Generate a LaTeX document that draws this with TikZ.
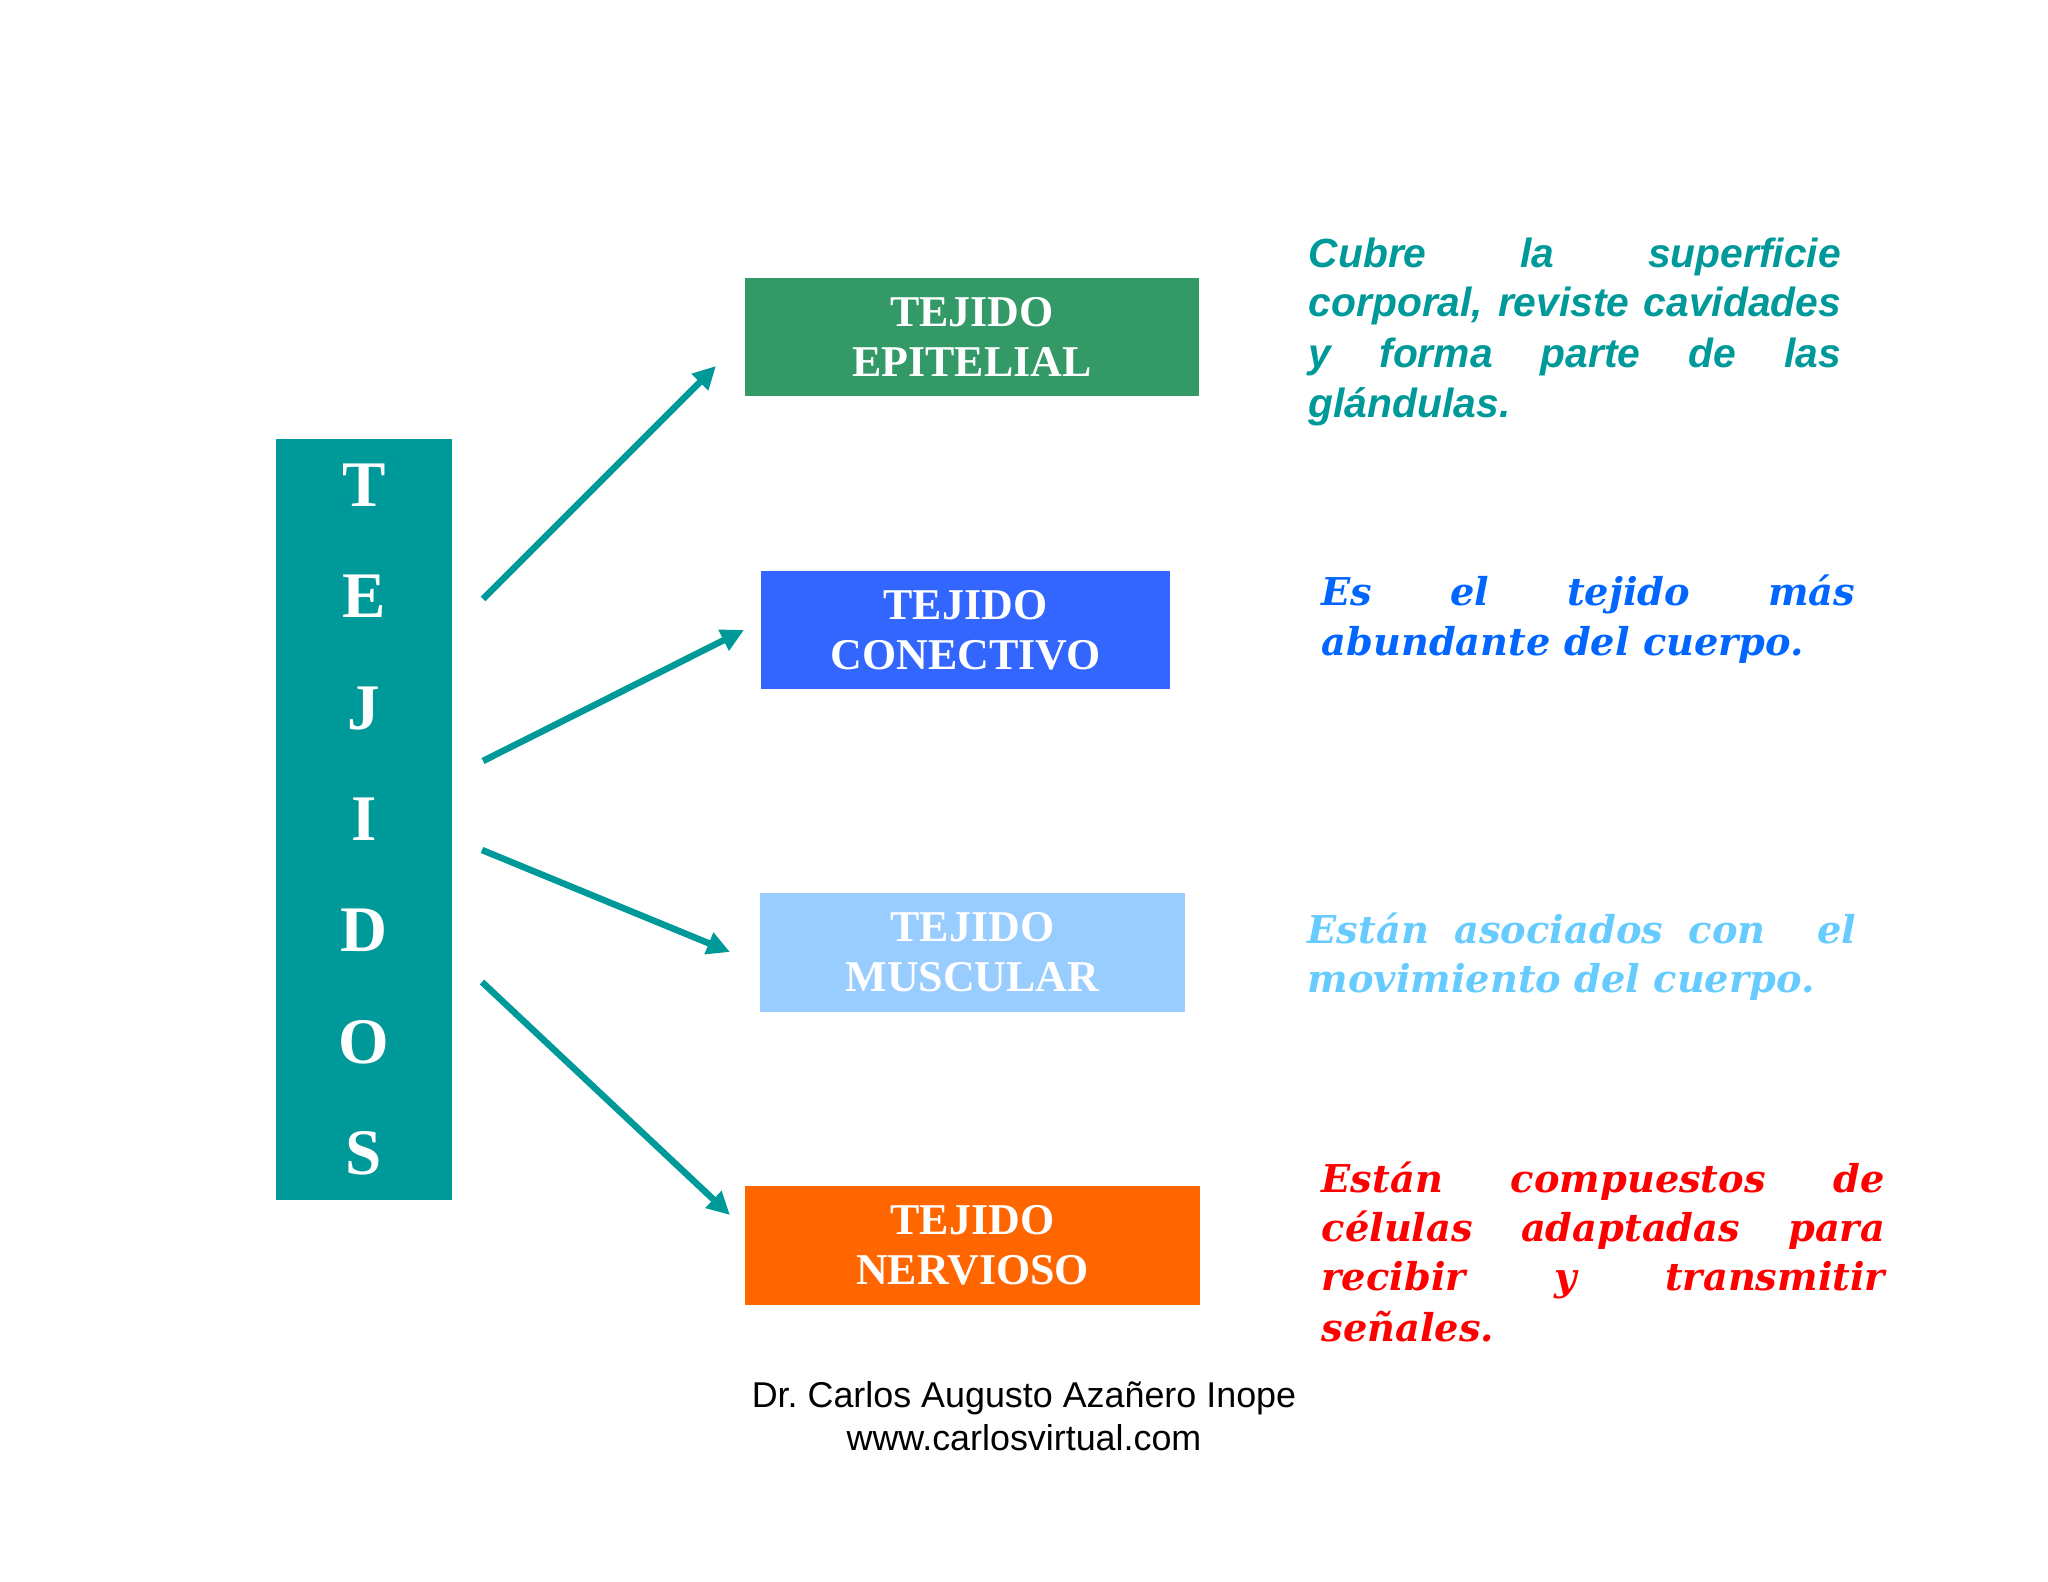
\documentclass[tikz,border=0pt]{standalone}
\usepackage{fontspec}
\setmainfont{Liberation Serif}
\newfontfamily\arialf{Liberation Sans}
\newfontfamily\georgiaf{DejaVu Serif}
\usetikzlibrary{arrows.meta}

\definecolor{verdeazul}{RGB}{0,153,153}
\definecolor{verdecaja}{RGB}{51,153,102}
\definecolor{azulcaja}{RGB}{51,102,255}
\definecolor{celestecaja}{RGB}{153,204,255}
\definecolor{naranjacaja}{RGB}{255,102,0}
\definecolor{azultxt}{RGB}{0,102,255}
\definecolor{celestetxt}{RGB}{102,204,255}
\definecolor{rojotxt}{RGB}{255,0,0}

\tikzset{
	barra/.style={rectangle, fill=verdeazul, text=white, inner sep=0pt, align=center,
		minimum width=1.76cm, minimum height=7.61cm,
		font=\bfseries\fontsize{18.5}{31.7}\selectfont},
	caja/.style={rectangle, text=white, inner sep=0pt, align=center, minimum height=1.18cm,
		font=\bfseries\fontsize{12.5}{14.2}\selectfont},
	flecha/.style={draw=verdeazul, line width=1.85pt, -{Triangle[length=6.5pt,width=6.3pt]}},
	linea/.style={anchor=base west, inner sep=0pt},
	descepi/.style={linea, text=verdeazul, font=\arialf\bfseries\itshape\fontsize{11.6}{14}\selectfont},
	descgeo/.style={linea, font=\georgiaf\bfseries\itshape\fontsize{10.9}{14}\selectfont},
	pie/.style={anchor=base, inner sep=0pt, font=\arialf\fontsize{10.2}{12.2}\selectfont}
}

\begin{document}
\begin{tikzpicture}[x=0.01cm, y=-0.01cm]
		%%%%% START %%%%%
		\useasboundingbox (0,0) rectangle (2048,1582);
		
		\node[barra] (tej) at (364, 819.5) {T\\E\\J\\I\\D\\O\\S};
		
		\node[caja, fill=verdecaja, minimum width=4.54cm] (epi) at (972, 337) {TEJIDO\\EPITELIAL};
		\node[caja, fill=azulcaja, minimum width=4.09cm] (con) at (965.5, 630) {TEJIDO\\CONECTIVO};
		\node[caja, fill=celestecaja, minimum width=4.25cm] (mus) at (972.5, 952.5) {TEJIDO\\MUSCULAR};
		\node[caja, fill=naranjacaja, minimum width=4.55cm] (ner) at (972.5, 1245.5) {TEJIDO\\NERVIOSO};
		
		\coordinate (s1) at (483, 599);  \coordinate (e1) at (716, 366);
		\coordinate (s2) at (483, 761);  \coordinate (e2) at (744, 630);
		\coordinate (s3) at (482, 850);  \coordinate (e3) at (730, 952);
		\coordinate (s4) at (482, 982);  \coordinate (e4) at (730, 1215);
		\draw[flecha] (s1) -- (e1);
		\draw[flecha] (s2) -- (e2);
		\draw[flecha] (s3) -- (e3);
		\draw[flecha] (s4) -- (e4);
		
		% epitelial
		\node[descepi] (epi1) at (1308, 268) {\makebox[5.32cm][s]{Cubre la superficie}};
		\node[descepi] (epi2) at (1308, 317) {\makebox[5.32cm][s]{corporal, reviste cavidades}};
		\node[descepi] (epi3) at (1308, 367) {\makebox[5.32cm][s]{y forma parte de las}};
		\node[descepi] (epi4) at (1308, 417) {glándulas.};
		
		% conectivo
		\node[descgeo, text=azultxt] (con1) at (1321, 605) {\makebox[5.33cm][s]{Es el tejido más}};
		\node[descgeo, text=azultxt] (con2) at (1321, 655) {abundante del cuerpo.};
		
		% muscular
		\node[descgeo, text=celestetxt] (mus1) at (1307, 943) {\makebox[5.48cm][s]{Están asociados con\ \ el}};
		\node[descgeo, text=celestetxt] (mus2) at (1307, 992) {movimiento del cuerpo.};
		
		% nervioso
		\node[descgeo, text=rojotxt] (ner1) at (1321, 1192) {\makebox[5.63cm][s]{Están compuestos de}};
		\node[descgeo, text=rojotxt] (ner2) at (1321, 1241) {\makebox[5.63cm][s]{células adaptadas para}};
		\node[descgeo, text=rojotxt] (ner3) at (1321, 1290) {\makebox[5.63cm][s]{recibir y transmitir}};
		\node[descgeo, text=rojotxt] (ner4) at (1321, 1341) {señales.};
		
		\node[pie] (aut) at (1024, 1407) {Dr.\ Carlos Augusto Azañero Inope};
		\node[pie] (web) at (1024, 1450) {www.carlosvirtual.com};
		%%%%% END %%%%%
\end{tikzpicture}
\end{document}
